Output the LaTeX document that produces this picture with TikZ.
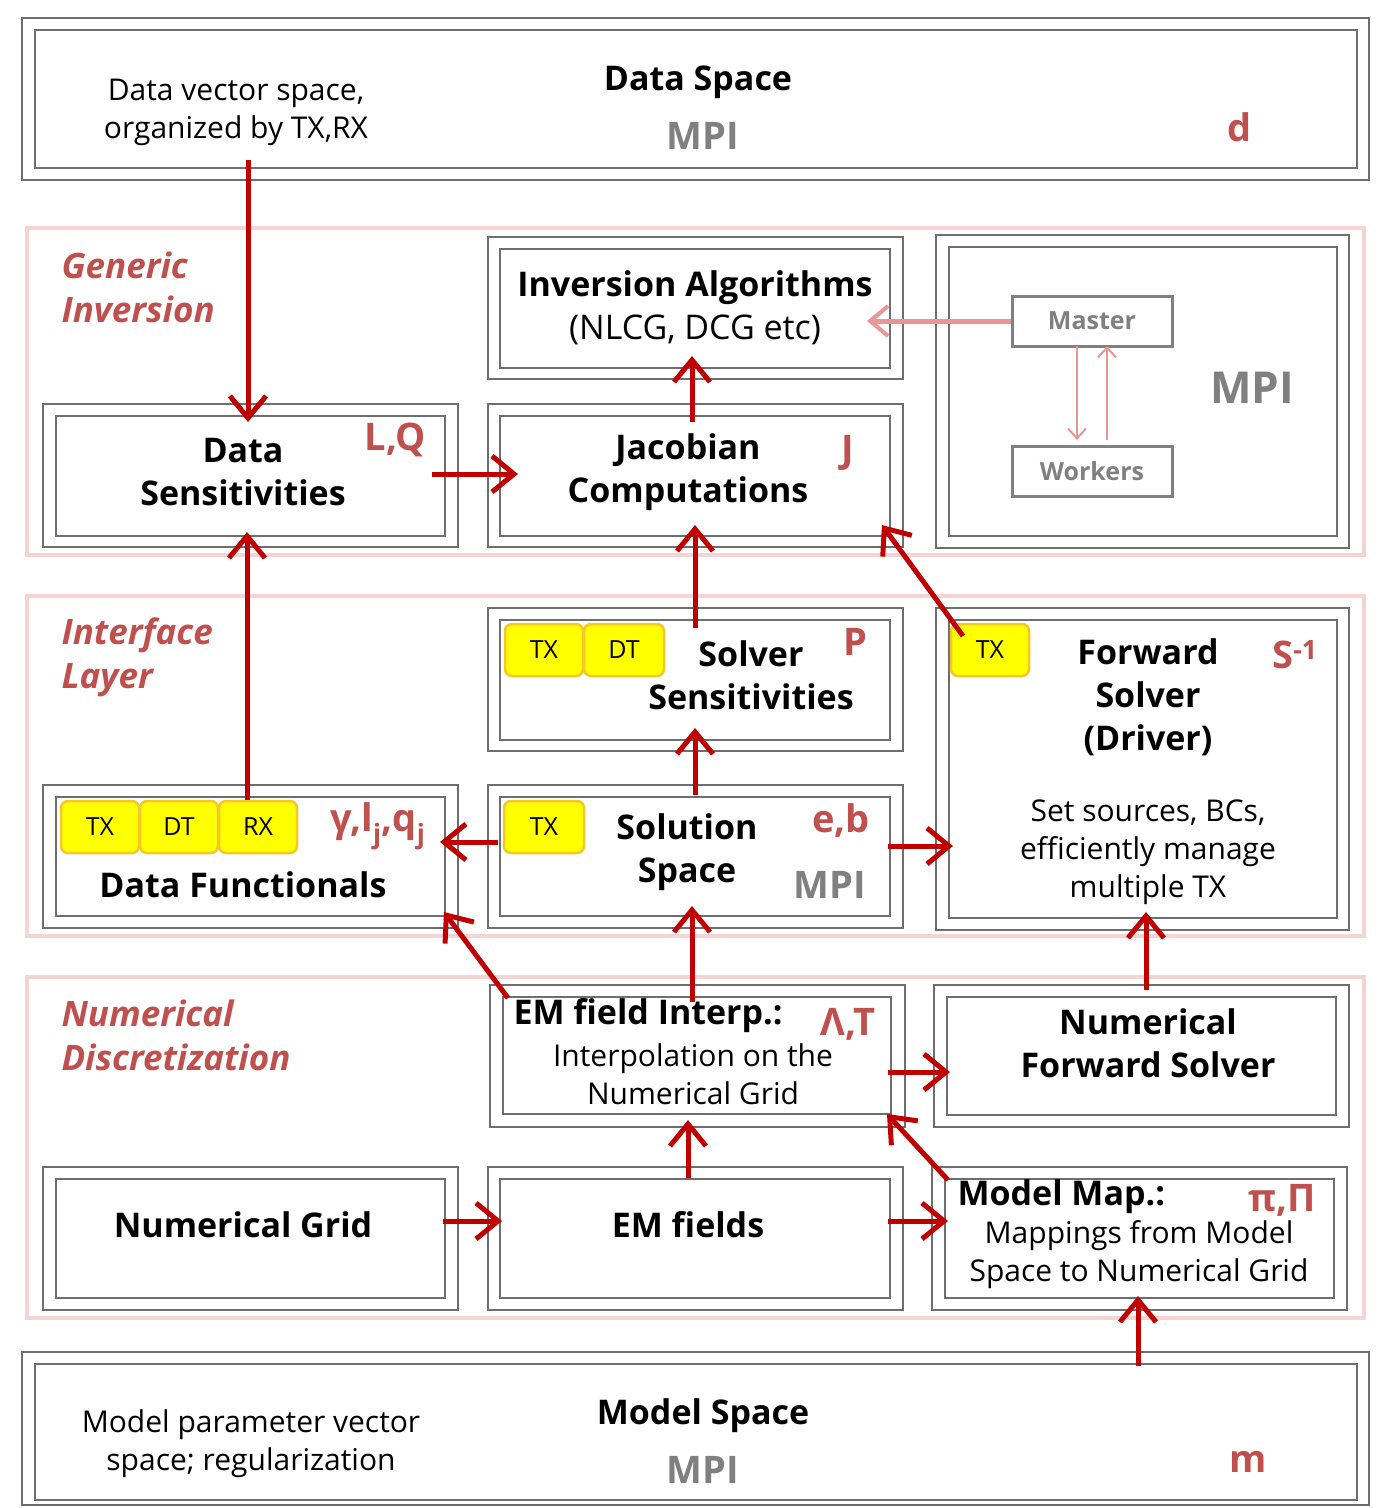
\documentclass[tikz,border=0pt]{standalone}
\usepackage{fontspec}
\setmainfont{Open Sans}
\usetikzlibrary{arrows.meta}
\definecolor{rd}{RGB}{192,0,0}
\definecolor{lab}{RGB}{192,80,77}
\definecolor{band}{RGB}{246,212,212}
\definecolor{gbox}{RGB}{110,110,110}
\definecolor{pk}{RGB}{232,150,150}
\definecolor{yl}{RGB}{255,255,0}
\definecolor{yb}{RGB}{245,200,40}
\tikzset{
 obox/.style={draw=gbox,line width=1.3pt},
 ibox/.style={draw=gbox,line width=1.3pt},
 bandbox/.style={draw=band,line width=4pt},
 arr/.style={draw=rd,line width=5pt,-{Straight Barb[length=22pt,width=36pt,line width=5pt]}},
 parr/.style={draw=pk,line width=5pt,-{Straight Barb[length=18pt,width=30pt,line width=4pt]}},
 tarr/.style={draw=pk,line width=2pt,-{Straight Barb[length=10pt,width=18pt,line width=2pt]}},
 tag/.style={fill=yl,draw=yb,line width=2.5pt,rounded corners=7pt,font=\fontsize{25}{28}\selectfont},
 big/.style={font=\fontsize{34}{43}\selectfont\bfseries,align=center},
 norm/.style={font=\fontsize{30}{38}\selectfont,align=center},
 red/.style={text=lab,font=\fontsize{38}{40}\selectfont\bfseries},
 layer/.style={text=lab,font=\fontsize{35}{44}\selectfont\bfseries\itshape,align=left,anchor=north west},
 mpi/.style={text=gray,font=\fontsize{38}{40}\selectfont\bfseries},
}
\newcommand{\dbox}[9]{% name, ox1,oy1,ox2,oy2, ix1,iy1,ix2,iy2
 \draw[obox] (#2,#3) rectangle (#4,#5);
 \draw[ibox] (#6,#7) rectangle (#8,#9);
 \coordinate (#1) at ({(#6+#8)/2},{(#7+#9)/2});}
\begin{document}
\begin{tikzpicture}[x=1pt,y=-1pt]
\useasboundingbox[fill=white] (0,0) rectangle (1389,1508);
% bands
\draw[bandbox] (27,228) rectangle (1364,555);
\draw[bandbox] (27,596) rectangle (1364,936);
\draw[bandbox] (27,977) rectangle (1364,1318);
% boxes
\dbox{ds}{22}{18}{1369}{180}{35}{30}{1357}{168}
\dbox{ms}{22}{1352}{1369}{1505}{35}{1364}{1357}{1500}
\dbox{ia}{488}{237}{903}{379}{500}{249}{890}{368}
\dbox{mp}{936}{235}{1349}{548}{949}{247}{1337}{536}
\dbox{dsen}{43}{404}{458}{547}{56}{416}{445}{536}
\dbox{jac}{488}{404}{903}{547}{500}{416}{890}{536}
\dbox{ss}{488}{608}{903}{751}{500}{620}{890}{740}
\dbox{fs}{936}{608}{1349}{930}{949}{620}{1337}{918}
\dbox{df}{43}{785}{458}{928}{56}{797}{445}{916}
\dbox{sol}{488}{785}{903}{928}{500}{797}{890}{916}
\dbox{emi}{490}{985}{905}{1127}{503}{997}{891}{1114}
\dbox{nfs}{934}{985}{1349}{1127}{947}{997}{1336}{1115}
\dbox{ng}{43}{1167}{458}{1310}{56}{1179}{445}{1298}
\dbox{emf}{488}{1167}{903}{1310}{500}{1179}{890}{1298}
\dbox{mm}{932}{1167}{1347}{1310}{945}{1179}{1334}{1298}
% master/workers
\node[draw=gray,line width=3pt,minimum width=160pt,minimum height=50pt,text=gray,font=\fontsize{25}{28}\selectfont\bfseries] (master) at (1092,321) {Master};
\node[draw=gray,line width=3pt,minimum width=160pt,minimum height=50pt,text=gray,font=\fontsize{25}{28}\selectfont\bfseries] (workers) at (1092,471) {Workers};
\node[mpi,font=\fontsize{44}{46}\selectfont\bfseries] (mpibig) at (1252,388) {MPI};
% layer labels
\node[layer] (l1) at (58,248) {Generic\\Inversion};
\node[layer] (l2) at (58,614) {Interface\\Layer};
\node[layer] (l3) at (58,996) {Numerical\\Discretization};
% texts
\node[big] (t1) at (698,82) {Data Space};
\node[mpi] (t1m) at (703,136) {MPI};
\node[red] (t1d) at (1240,127) {d};
\node[norm] (t1n) at (236,112) {Data vector space,\\organized by TX,RX};
\node[big] (t2) at (703,1416) {Model Space};
\node[mpi] (t2m) at (703,1470) {MPI};
\node[red] (t2d) at (1248,1462) {m};
\node[norm] (t2n) at (251,1444) {Model parameter vector\\space; regularization};
\node[big,font=\fontsize{34}{43}\selectfont] (ia1) at (695,308) {\textbf{Inversion Algorithms}\\(NLCG, DCG etc)};
\node[big] (ds1) at (243,472) {Data\\Sensitivities};
\node[red] (ds2) at (395,440) {L,Q};
\node[big] (jc1) at (688,472) {Jacobian\\Computations};
\node[red] (jc2) at (848,453) {J};
\node[big] (ss1) at (751,675) {Solver\\Sensitivities};
\node[red] (ss2) at (855,642) {P};
\node[tag,minimum width=78pt,minimum height=52pt] (tg1) at (544,650) {TX};
\node[tag,minimum width=80pt,minimum height=52pt] (tg2) at (624,650) {DT};
\node[big] (fs1) at (1148,697) {Forward\\Solver\\(Driver)};
\node[red] (fs2) at (1295,655) {S\textsuperscript{-1}};
\node[tag,minimum width=78pt,minimum height=52pt] (tg3) at (990,650) {TX};
\node[norm] (fs3) at (1148,852) {Set sources, BCs,\\efficiently manage\\multiple TX};
\node[tag,minimum width=78pt,minimum height=52pt] (tg4) at (100,827) {TX};
\node[tag,minimum width=78pt,minimum height=52pt] (tg5) at (179,827) {DT};
\node[tag,minimum width=78pt,minimum height=52pt] (tg6) at (258,827) {RX};
\node[red] (df2) at (378,826) {γ,l\textsubscript{j},q\textsubscript{j}};
\node[big] (df1) at (243,885) {Data Functionals};
\node[tag,minimum width=80pt,minimum height=52pt] (tg7) at (544,827) {TX};
\node[big] (so1) at (687,852) {Solution\\Space};
\node[red] (so2) at (841,821) {e,b};
\node[mpi] (so3) at (830,885) {MPI};
\node[big,anchor=west] (em1) at (510,1016) {EM field Interp.:};
\node[red] (em2) at (848,1024) {Λ,T};
\node[norm] (em3) at (693,1074) {Interpolation on the\\Numerical Grid};
\node[big] (nf1) at (1148,1043) {Numerical\\Forward Solver};
\node[big] (ng1) at (243,1225) {Numerical Grid};
\node[big] (ef1) at (688,1225) {EM fields};
\node[big,anchor=west] (mm1) at (954,1197) {Model Map.:};
\node[red] (mm2) at (1282,1200) {π,Π};
\node[norm] (mm3) at (1139,1255) {Mappings from Model\\Space to Numerical Grid};
% arrow endpoints
\foreach \n/\x/\y in {a1s/248/160,a1e/248/422,a2s/432/474,a2e/518/474,a3s/692/422,a3e/692/356,
 a4s/695/628,a4e/695/525,a5s/963/636,a5e/882/525,a6s/247/800,a6e/247/532,a7s/695/795,a7e/695/728,
 a8s/498/842,a8e/440/842,a9s/888/846,a9e/953/846,b0s/508/998,b0e/444/912,b1s/692/1002,b1e/692/906,
 b2s/1146/990,b2e/1146/912,b3s/888/1072,b3e/950/1072,b4s/688/1178,b4e/688/1120,b5s/948/1180,b5e/887/1114,
 b6s/443/1221,b6e/502/1221,b7s/888/1221,b7e/948/1221,b8s/1138/1366,b8e/1138/1296,
 p1e/867/321,w1s/1077/346,w1e/1077/440,w2s/1107/440,w2e/1107/346}
 {\coordinate (\n) at (\x,\y);}
\foreach \a in {a1,a2,a3,a4,a5,a6,a7,a8,a9,b0,b1,b2,b3,b4,b5,b6,b7,b8}
 {\draw[arr] (\a s) -- (\a e);}
\draw[parr] (master.west) -- (p1e);
\draw[tarr] (w1s) -- (w1e);
\draw[tarr] (w2s) -- (w2e);
\end{tikzpicture}
\end{document}
